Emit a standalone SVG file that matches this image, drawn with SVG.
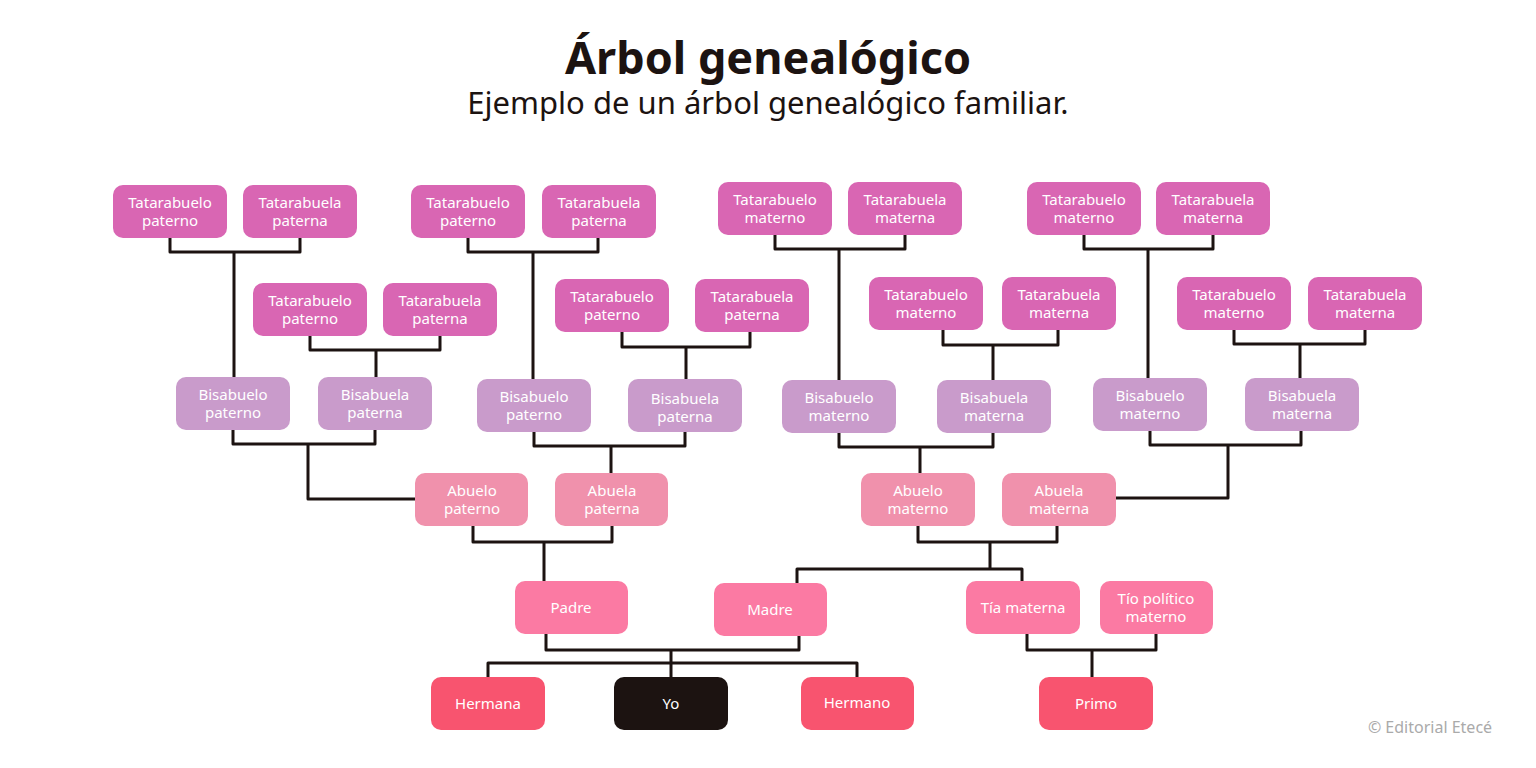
<svg xmlns="http://www.w3.org/2000/svg" width="1536" height="768" viewBox="0 0 1536 768">
<style>
rect{rx:10;ry:10}
.t rect{fill:#d966b3}.b rect{fill:#c99bcb}.a rect{fill:#f091ac}.p rect{fill:#fb7aa3}.h rect{fill:#f8546f}.y rect{fill:#1c1311}
text{font-family:"Noto Sans","Liberation Sans",sans-serif;font-size:15px;fill:#fff;text-anchor:middle}
#lines path{fill:none;stroke:#1c1311;stroke-width:3;stroke-linejoin:round}
</style>
<rect width="1536" height="768" fill="#fff" rx="0"/>
<text x="768" y="74" style="font-size:45px;font-weight:bold;fill:#1c1311">Árbol genealógico</text>
<text x="768" y="114" style="font-size:31px;fill:#1c1311">Ejemplo de un árbol genealógico familiar.</text>
<text x="1430" y="733" style="font-size:16px;fill:#aaa">© Editorial Etecé</text>
<g id="lines">
<path d="M170 238V252H300V238M234 252V377"/>
<path d="M310 336V350H440V336M376 350V377"/>
<path d="M233 430V444H375V430M308 444V499H415"/>
<path d="M468 238V252H598V238M533 252V379"/>
<path d="M622 332V347H750V332M686 347V379"/>
<path d="M534 432V446H685V432M611 446V473"/>
<path d="M473 526V542H612V526M544 542V581"/>
<path d="M775 235V249H905V235M839 249V380"/>
<path d="M943 330V345H1058V330M993 345V380"/>
<path d="M839 433V447H993V433M920 447V473"/>
<path d="M1084 235V249H1213V235M1148 249V378"/>
<path d="M1234 330V344H1365V330M1300 344V378"/>
<path d="M1150 431V445H1301V431M1228 445V498H1116"/>
<path d="M918 526V542H1057V526M990 542V569M797 583V569H1022V581"/>
<path d="M546 634V650H799V636M671 650V677M488 677V663H857V677"/>
<path d="M1027 634V650H1156V634M1092 650V677"/>
</g>
<g id="t1" class="t"><rect x="113" y="185" width="114" height="53"/><text x="170" y="208">Tatarabuelo</text><text x="170" y="226">paterno</text></g>
<g id="t2" class="t"><rect x="243" y="185" width="114" height="53"/><text x="300" y="208">Tatarabuela</text><text x="300" y="226">paterna</text></g>
<g id="t3" class="t"><rect x="411" y="185" width="114" height="53"/><text x="468" y="208">Tatarabuelo</text><text x="468" y="226">paterno</text></g>
<g id="t4" class="t"><rect x="542" y="185" width="114" height="53"/><text x="599" y="208">Tatarabuela</text><text x="599" y="226">paterna</text></g>
<g id="t5" class="t"><rect x="718" y="182" width="114" height="53"/><text x="775" y="205">Tatarabuelo</text><text x="775" y="223">materno</text></g>
<g id="t6" class="t"><rect x="848" y="182" width="114" height="53"/><text x="905" y="205">Tatarabuela</text><text x="905" y="223">materna</text></g>
<g id="t7" class="t"><rect x="1027" y="182" width="114" height="53"/><text x="1084" y="205">Tatarabuelo</text><text x="1084" y="223">materno</text></g>
<g id="t8" class="t"><rect x="1156" y="182" width="114" height="53"/><text x="1213" y="205">Tatarabuela</text><text x="1213" y="223">materna</text></g>
<g id="t9" class="t"><rect x="253" y="283" width="114" height="53"/><text x="310" y="306">Tatarabuelo</text><text x="310" y="324">paterno</text></g>
<g id="t10" class="t"><rect x="383" y="283" width="114" height="53"/><text x="440" y="306">Tatarabuela</text><text x="440" y="324">paterna</text></g>
<g id="t11" class="t"><rect x="555" y="279" width="114" height="53"/><text x="612" y="302">Tatarabuelo</text><text x="612" y="320">paterno</text></g>
<g id="t12" class="t"><rect x="695" y="279" width="114" height="53"/><text x="752" y="302">Tatarabuela</text><text x="752" y="320">paterna</text></g>
<g id="t13" class="t"><rect x="869" y="277" width="114" height="53"/><text x="926" y="300">Tatarabuelo</text><text x="926" y="318">materno</text></g>
<g id="t14" class="t"><rect x="1002" y="277" width="114" height="53"/><text x="1059" y="300">Tatarabuela</text><text x="1059" y="318">materna</text></g>
<g id="t15" class="t"><rect x="1177" y="277" width="114" height="53"/><text x="1234" y="300">Tatarabuelo</text><text x="1234" y="318">materno</text></g>
<g id="t16" class="t"><rect x="1308" y="277" width="114" height="53"/><text x="1365" y="300">Tatarabuela</text><text x="1365" y="318">materna</text></g>
<g id="b1" class="b"><rect x="176" y="377" width="114" height="53"/><text x="233" y="400">Bisabuelo</text><text x="233" y="418">paterno</text></g>
<g id="b2" class="b"><rect x="318" y="377" width="114" height="53"/><text x="375" y="400">Bisabuela</text><text x="375" y="418">paterna</text></g>
<g id="b3" class="b"><rect x="477" y="379" width="114" height="53"/><text x="534" y="402">Bisabuelo</text><text x="534" y="420">paterno</text></g>
<g id="b4" class="b"><rect x="628" y="379" width="114" height="53"/><text x="685" y="404">Bisabuela</text><text x="685" y="422">paterna</text></g>
<g id="b5" class="b"><rect x="782" y="380" width="114" height="53"/><text x="839" y="403">Bisabuelo</text><text x="839" y="421">materno</text></g>
<g id="b6" class="b"><rect x="937" y="380" width="114" height="53"/><text x="994" y="403">Bisabuela</text><text x="994" y="421">materna</text></g>
<g id="b7" class="b"><rect x="1093" y="378" width="114" height="53"/><text x="1150" y="401">Bisabuelo</text><text x="1150" y="419">materno</text></g>
<g id="b8" class="b"><rect x="1245" y="378" width="114" height="53"/><text x="1302" y="401">Bisabuela</text><text x="1302" y="419">materna</text></g>
<g id="a1" class="a"><rect x="415" y="473" width="113" height="53"/><text x="472" y="496">Abuelo</text><text x="472" y="514">paterno</text></g>
<g id="a2" class="a"><rect x="555" y="473" width="113" height="53"/><text x="612" y="496">Abuela</text><text x="612" y="514">paterna</text></g>
<g id="a3" class="a"><rect x="861" y="473" width="114" height="53"/><text x="918" y="496">Abuelo</text><text x="918" y="514">materno</text></g>
<g id="a4" class="a"><rect x="1002" y="473" width="114" height="53"/><text x="1059" y="496">Abuela</text><text x="1059" y="514">materna</text></g>
<g id="padre" class="p"><rect x="515" y="581" width="113" height="53"/><text x="571" y="613">Padre</text></g>
<g id="madre" class="p"><rect x="714" y="583" width="113" height="53"/><text x="770" y="615">Madre</text></g>
<g id="tia" class="p"><rect x="966" y="581" width="114" height="53"/><text x="1023" y="613">Tía materna</text></g>
<g id="tio" class="p"><rect x="1100" y="581" width="113" height="53"/><text x="1156" y="604">Tío político</text><text x="1156" y="622">materno</text></g>
<g id="hermana" class="h"><rect x="431" y="677" width="114" height="53"/><text x="488" y="709">Hermana</text></g>
<g id="yo" class="y"><rect x="614" y="677" width="114" height="53"/><text x="671" y="709">Yo</text></g>
<g id="hermano" class="h"><rect x="801" y="677" width="113" height="53"/><text x="857" y="708">Hermano</text></g>
<g id="primo" class="h"><rect x="1039" y="677" width="114" height="53"/><text x="1096" y="709">Primo</text></g>
</svg>
